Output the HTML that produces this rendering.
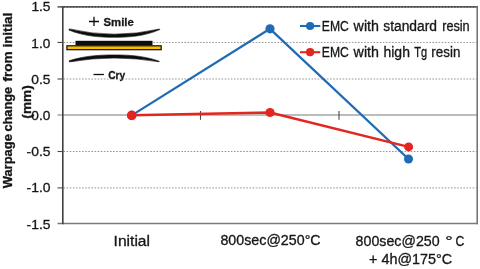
<!DOCTYPE html>
<html><head><meta charset="utf-8"><title>Warpage change from initial</title>
<style>
html,body{margin:0;padding:0;background:#fff;}
body{width:480px;height:269px;overflow:hidden;}
svg{display:block;}
text{font-family:"Liberation Sans",sans-serif;fill:#161616;stroke:#161616;stroke-width:0.3px;white-space:pre;}
.yl{font-size:13.3px;}
.xl{font-size:14px;}
.lg{font-size:13.8px;}
.ti{font-size:13.5px;font-weight:bold;}
.in{font-size:11.8px;font-weight:bold;}
</style></head><body>
<svg width="480" height="269" viewBox="0 0 480 269">
<rect width="480" height="269" fill="#fff"/>
<!-- gridlines -->
<g stroke="#969696" stroke-width="1" stroke-dasharray="1.6 1.5" fill="none">
<line x1="63.5" y1="42.45" x2="476.5" y2="42.45"/>
<line x1="63.5" y1="79.00" x2="476.5" y2="79.00"/>
<line x1="63.5" y1="151.50" x2="476.5" y2="151.50"/>
<line x1="63.5" y1="187.90" x2="476.5" y2="187.90"/>
</g>
<!-- plot frame and axes -->
<line x1="57.5" y1="6.95" x2="478" y2="6.95" stroke="#6a6a6a" stroke-width="1.7"/>
<line x1="63.5" y1="6.95" x2="476.5" y2="6.95" stroke="#3c3c3c" stroke-width="1.2" stroke-dasharray="1.6 1.5"/>
<line x1="477.2" y1="6.2" x2="477.2" y2="224.2" stroke="#6e6e6e" stroke-width="1.5"/>
<line x1="57.5" y1="223.50" x2="478" y2="223.50" stroke="#7a7a7a" stroke-width="1.7"/>
<line x1="57.5" y1="115.05" x2="477" y2="115.05" stroke="#7a7a7a" stroke-width="1.1"/>
<line x1="62.8" y1="6.2" x2="62.8" y2="224.2" stroke="#3e3e3e" stroke-width="1.6"/>
<g stroke="#4a4a4a" stroke-width="1.1">
<line x1="57.5" y1="42.45" x2="62.8" y2="42.45"/>
<line x1="57.5" y1="79.00" x2="62.8" y2="79.00"/>
<line x1="57.5" y1="151.50" x2="62.8" y2="151.50"/>
<line x1="57.5" y1="187.90" x2="62.8" y2="187.90"/>
<line x1="200.5" y1="111" x2="200.5" y2="119.8"/><line x1="339" y1="111" x2="339" y2="119.8"/>
</g>
<!-- y axis labels -->
<text class="yl" x="31.40" y="10.90" textLength="19.11" lengthAdjust="spacingAndGlyphs">1.5</text>
<text class="yl" x="31.39" y="47.50" textLength="18.93" lengthAdjust="spacingAndGlyphs">1.0</text>
<text class="yl" x="31.39" y="83.50" textLength="19.11" lengthAdjust="spacingAndGlyphs">0.5</text>
<text class="yl" x="31.38" y="119.70" textLength="19.02" lengthAdjust="spacingAndGlyphs">0.0</text>
<text class="yl" x="26.59" y="156.40" textLength="23.89" lengthAdjust="spacingAndGlyphs">-0.5</text>
<text class="yl" x="26.59" y="192.10" textLength="23.99" lengthAdjust="spacingAndGlyphs">-1.0</text>
<text class="yl" x="26.59" y="228.70" textLength="23.89" lengthAdjust="spacingAndGlyphs">-1.5</text>
<!-- y axis title -->
<text class="ti" transform="rotate(-90)" y="11.8"><tspan x="-188.37" textLength="54.22" lengthAdjust="spacingAndGlyphs">Warpage</tspan> <tspan x="-131.60" textLength="44.76" lengthAdjust="spacingAndGlyphs">change</tspan> <tspan x="-81.61" textLength="30.17" lengthAdjust="spacingAndGlyphs">from</tspan> <tspan x="-47.58" textLength="34.83" lengthAdjust="spacingAndGlyphs">initial</tspan></text>
<text class="ti" transform="rotate(-90)" y="30.8"><tspan x="-118.68" textLength="33.55" lengthAdjust="spacingAndGlyphs">(mm)</tspan></text>
<!-- x axis labels -->
<text class="xl" x="113.58" y="245.50" textLength="36.41" lengthAdjust="spacingAndGlyphs">Initial</text>
<text class="xl" x="220.43" y="245.40" textLength="100.21" lengthAdjust="spacingAndGlyphs">800sec@250°C</text>
<text class="xl" y="245.6"><tspan x="355.59" textLength="84.05" lengthAdjust="spacingAndGlyphs">800sec@250</tspan> <tspan x="445.15" textLength="7.47" lengthAdjust="spacingAndGlyphs">°</tspan> <tspan x="455.58" textLength="8.83" lengthAdjust="spacingAndGlyphs">C</tspan></text>
<text class="xl" x="369.01" y="264.25" textLength="83.17" lengthAdjust="spacingAndGlyphs">+ 4h@175°C</text>
<!-- inset: smile / cry -->
<path d="M69.3 28.9 Q114.3 39.4 159.5 29 L159.8 29.6 C144 36.5 128 37.3 114.3 37.3 C100 37.3 85 36.5 68.9 30.1Z" fill="#0d0d0d" stroke="#0d0d0d" stroke-width="0.6" stroke-linejoin="round"/>
<rect x="75.5" y="40.8" width="77" height="4.6" fill="#0d0d0d"/>
<rect x="66.9" y="45.8" width="94.3" height="3.9" fill="#f7bd07" stroke="#0d0d0d" stroke-width="1.2"/>
<path d="M69.1 60.7 C85 55.7 100 54.9 114.2 54.9 C128 54.9 144 55.7 159.3 61.2 L159 61.8 Q114.2 54.2 69.5 61.9Z" fill="#0d0d0d" stroke="#0d0d0d" stroke-width="0.6" stroke-linejoin="round"/>
<path d="M89 21.5H99M94 16.8V26.1" stroke="#0d0d0d" stroke-width="1.3" fill="none"/>
<text class="in" x="103.44" y="26.25" textLength="30.35" lengthAdjust="spacingAndGlyphs">Smile</text>
<path d="M93.5 74.5H103.9" stroke="#0d0d0d" stroke-width="1.3" fill="none"/>
<text class="in" x="108.20" y="79.20" textLength="17.05" lengthAdjust="spacingAndGlyphs">Cry</text>
<!-- data series -->
<polyline points="131.7,115.4 270,28.8 408.5,159" fill="none" stroke="#1f6bb5" stroke-width="2.3" stroke-linejoin="round"/>
<polyline points="131.7,115.3 270,112.5 408.6,146.9" fill="none" stroke="#e3261f" stroke-width="2.5" stroke-linejoin="round"/>
<g fill="#1f6bb5"><circle cx="131.7" cy="115.4" r="4.6"/><circle cx="270" cy="28.8" r="4.6"/><circle cx="408.5" cy="159" r="4.5"/></g>
<g fill="#e3261f"><circle cx="131.7" cy="115.4" r="4.8"/><circle cx="270" cy="112.5" r="4.6"/><circle cx="408.6" cy="146.9" r="4.5"/></g>
<!-- legend -->
<line x1="300" y1="26" x2="320.3" y2="26" stroke="#1f6bb5" stroke-width="2.1"/>
<circle cx="310.1" cy="26" r="4.1" fill="#1f6bb5"/>
<text class="lg" y="30.6"><tspan x="321.84" textLength="27.01" lengthAdjust="spacingAndGlyphs">EMC</tspan> <tspan x="353.60" textLength="25.35" lengthAdjust="spacingAndGlyphs">with</tspan> <tspan x="383.23" textLength="53.81" lengthAdjust="spacingAndGlyphs">standard</tspan> <tspan x="442.17" textLength="27.53" lengthAdjust="spacingAndGlyphs">resin</tspan></text>
<line x1="300" y1="52.2" x2="320.3" y2="52.2" stroke="#e3261f" stroke-width="2.1"/>
<circle cx="310.1" cy="52.2" r="4.1" fill="#e3261f"/>
<text class="lg" y="56.8"><tspan x="321.84" textLength="27.01" lengthAdjust="spacingAndGlyphs">EMC</tspan> <tspan x="353.60" textLength="25.35" lengthAdjust="spacingAndGlyphs">with</tspan> <tspan x="383.48" textLength="26.45" lengthAdjust="spacingAndGlyphs">high</tspan> <tspan x="414.37" textLength="12.79" lengthAdjust="spacingAndGlyphs">Tg</tspan> <tspan x="431.37" textLength="28.96" lengthAdjust="spacingAndGlyphs">resin</tspan></text>
</svg>
</body></html>
